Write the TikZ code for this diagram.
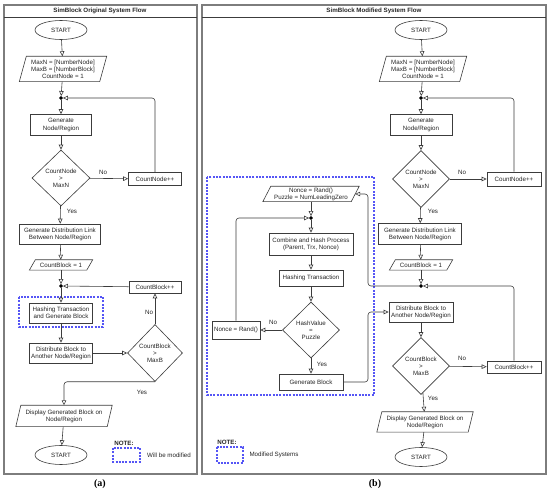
\documentclass[tikz,border=0pt]{standalone}
\usepackage{fontspec}
\setmainfont{Liberation Sans}
\newfontfamily\capfont{Liberation Serif}
\usetikzlibrary{arrows.meta,shapes.geometric,calc}
\definecolor{lc}{RGB}{60,60,60}
\definecolor{fc}{RGB}{125,125,125}
\definecolor{bd}{RGB}{85,85,245}
\tikzset{
 base/.style={font=\fontsize{6.2}{7.2}\selectfont, text=black!85, align=center, inner sep=0.5pt},
 box/.style={base, draw=lc, line width=0.6pt, fill=white},
 term/.style={box, ellipse, minimum width=52, minimum height=19, inner sep=0pt},
 dia/.style={box, diamond, inner sep=0pt},
 para/.style={base},
 jdot/.style={circle, draw=black, fill=black, inner sep=0pt, minimum size=3.4pt},
 lab/.style={base},
 arr/.style={draw=lc, line width=0.6pt, -{Triangle[open, length=5pt, width=4.5pt]}},
 ln/.style={draw=lc, line width=0.6pt},
 rc/.style={rounded corners=3pt},
 blued/.style={draw=bd, line width=1.6pt, dash pattern=on 2pt off 1.3pt},
 ttl/.style={font=\bfseries\fontsize{6.2}{7.2}\selectfont, text=black!85},
}
\newcommand{\drawpara}[2]{\draw[draw=lc, line width=0.6pt] ([xshift=#2pt]#1.north west) -- ([xshift=#2pt]#1.north east) -- ([xshift=-#2pt]#1.south east) -- ([xshift=-#2pt]#1.south west) -- cycle;}
\begin{document}
\begin{tikzpicture}[x=1pt,y=-1pt]
\useasboundingbox[fill=white] (0,0) rectangle (550,492);
% panels
\draw[fc, line width=1.3pt] (4,5) rectangle (197,474);
\draw[lc, line width=0.6pt] (4,17) -- (197,17);
\node[ttl] (tA) at (100,11) {SimBlock Original System Flow};
\draw[fc, line width=1.3pt] (202,5) rectangle (546,474);
\draw[lc, line width=0.6pt] (202,17) -- (546,17);
\node[ttl] (tB) at (374,11) {SimBlock Modified System Flow};
\node[font=\capfont\bfseries\fontsize{10}{12}\selectfont] (capA) at (100,484) {(a)};
\node[font=\capfont\bfseries\fontsize{10}{12}\selectfont] (capB) at (375,484) {(b)};

% ===== left panel =====
\draw[blued] (19,297) rectangle (103,327);
\node[term] (sA) at (61,30) {START};
\node[para, minimum width=80, minimum height=25] (pA) at (63,69) {MaxN = [NumberNode]\\MaxB = [NumberBlock]\\CountNode = 1};
\drawpara{pA}{3.5}
\node[box, minimum width=61, minimum height=21] (gA) at (61,125) {Generate\\Node/Region};
\node[dia, minimum width=58, minimum height=56] (dA) at (61,178) {CountNode\\>\\MaxN};
\node[box, minimum width=53, minimum height=13] (cnA) at (155,179) {CountNode++};
\node[box, minimum width=81, minimum height=20] (lA) at (60,234) {Generate Distribution Link\\Between Node/Region};
\node[para, minimum width=57, minimum height=10] (cbA) at (61,265) {CountBlock = 1};
\drawpara{cbA}{3}
\node[box, minimum width=63, minimum height=20] (hA) at (61,313) {Hashing Transaction\\and Generate Block};
\node[box, minimum width=52, minimum height=12] (cbpA) at (155,287) {CountBlock++};
\node[box, minimum width=63, minimum height=20] (dbA) at (61,353) {Distribute Block to\\Another Node/Region};
\node[dia, minimum width=55, minimum height=57] (dmA) at (155,353) {CountBlock\\>\\MaxB};
\node[para, minimum width=91, minimum height=21] (dispA) at (64,416) {Display Generated Block on\\Node/Region};
\drawpara{dispA}{2.5}
\node[term] (eA) at (61,455) {START};
\node[lab] (noA1) at (103,172) {No};
\node[lab] (yesA1) at (72,211) {Yes};
\node[lab] (noA2) at (149,312) {No};
\node[lab] (yesA2) at (142,392) {Yes};
\node[base, font=\bfseries\fontsize{6.2}{7.2}\selectfont] (noteA) at (124,443) {NOTE:};
\draw[blued] (113,448) rectangle (140,462);
\node[base] (wmA) at (169,455) {Will be modified};
\node[jdot] (d1) at (61,98) {};
\node[jdot] (d2) at (61,286) {};

\draw[arr] (sA) -- (pA);
\draw[arr] (pA) -- (d1);
\draw[arr] (d1) -- (gA);
\draw[arr] (gA) -- (dA);
\draw[arr] (dA) -- (cnA);
\draw[arr, rc] (cnA.north) |- (d1);
\draw[arr] (dA) -- (lA);
\draw[arr] (lA) -- (cbA);
\draw[arr] (cbA) -- (d2);
\draw[arr] (d2) -- (hA);
\draw[arr] (cbpA) -- (d2);
\draw[arr] (hA) -- (dbA);
\draw[arr] (dbA) -- (dmA);
\draw[arr] (dmA) -- (cbpA);
\draw[arr, rc] (dmA.south) -| (dispA.north);
\draw[arr] (dispA) -- (eA);

% ===== right panel =====
\draw[blued] (207,177) rectangle (374,395);
\coordinate (kx) at (368,0);
\node[term] (sB) at (421,30) {START};
\node[para, minimum width=80, minimum height=25] (pB) at (423,69) {MaxN = [NumberNode]\\MaxB = [NumberBlock]\\CountNode = 1};
\drawpara{pB}{3.5}
\node[box, minimum width=62, minimum height=21] (gB) at (421,125) {Generate\\Node/Region};
\node[dia, minimum width=57, minimum height=57] (dB) at (421,179) {CountNode\\>\\MaxN};
\node[box, minimum width=54, minimum height=14] (cnB) at (514,179) {CountNode++};
\node[box, minimum width=83, minimum height=21] (lB) at (420,234) {Generate Distribution Link\\Between Node/Region};
\node[para, minimum width=57, minimum height=10] (cbB) at (421,265) {CountBlock = 1};
\drawpara{cbB}{3}
\node[box, minimum width=64, minimum height=20] (dbB) at (421,312) {Distribute Block to\\Another Node/Region};
\node[dia, minimum width=57, minimum height=57] (dmB) at (421,366) {CountBlock\\>\\MaxB};
\node[box, minimum width=54, minimum height=12] (cbpB) at (514,367) {CountBlock++};
\node[para, minimum width=91, minimum height=20] (dispB) at (425,422) {Display Generated Block on\\Node/Region};
\drawpara{dispB}{2.5}
\node[term] (eB) at (421,457) {START};
\node[lab] (noB1) at (462,172) {No};
\node[lab] (yesB1) at (433,211) {Yes};
\node[lab] (noB2) at (462,358) {No};
\node[lab] (yesB2) at (433,398) {Yes};

\node[para, minimum width=88, minimum height=15] (nonce) at (311,194) {Nonce = Rand()\\Puzzle = NumLeadingZero};
\drawpara{nonce}{4}
\node[box, minimum width=84, minimum height=22] (comb) at (311,244) {Combine and Hash Process\\(Parent, Trx, Nonce)};
\node[box, minimum width=64, minimum height=16] (hashT) at (311,278) {Hashing Transaction};
\node[dia, minimum width=57, minimum height=56] (hdm) at (311,330) {HashValue\\=\\Puzzle};
\node[box, minimum width=48, minimum height=18] (nr) at (236,330) {Nonce = Rand()};
\node[box, minimum width=64, minimum height=16] (gbk) at (311,382) {Generate Block};
\node[lab] (noC) at (273,322) {No};
\node[lab] (yesC) at (322,364) {Yes};
\node[base, font=\bfseries\fontsize{6.2}{7.2}\selectfont] (noteB) at (227,442) {NOTE:};
\draw[blued] (217,447) rectangle (243,463);
\node[base] (msB) at (274,455) {Modified Systems};
\node[jdot] (d3) at (421,98) {};
\node[jdot] (d4) at (421,286) {};
\node[jdot] (d5) at (311,218) {};

\draw[arr] (sB) -- (pB);
\draw[arr] (pB) -- (d3);
\draw[arr] (d3) -- (gB);
\draw[arr] (gB) -- (dB);
\draw[arr] (dB) -- (cnB);
\draw[arr, rc] (cnB.north) |- (d3);
\draw[arr] (dB) -- (lB);
\draw[arr] (lB) -- (cbB);
\draw[arr] (cbB) -- (d4);
\draw[arr, rc] (cbpB.north) |- (d4);
\draw[arr, rc] (d4) -- (d4 -| kx) |- (nonce.east);
\draw[arr] (nonce) -- (d5);
\draw[arr] (d5) -- (comb);
\draw[arr, rc] (nr.north) |- (d5);
\draw[arr] (comb) -- (hashT);
\draw[arr] (hashT) -- (hdm);
\draw[arr] (hdm) -- (nr);
\draw[arr] (hdm) -- (gbk);
\draw[arr, rc] (gbk.east) -- (gbk.east -| kx) |- (dbB.west);
\draw[arr] (dbB) -- (dmB);
\draw[arr] (dmB) -- (cbpB);
\draw[arr] (dmB) -- (dispB);
\draw[arr] (dispB) -- (eB);
\end{tikzpicture}
\end{document}
